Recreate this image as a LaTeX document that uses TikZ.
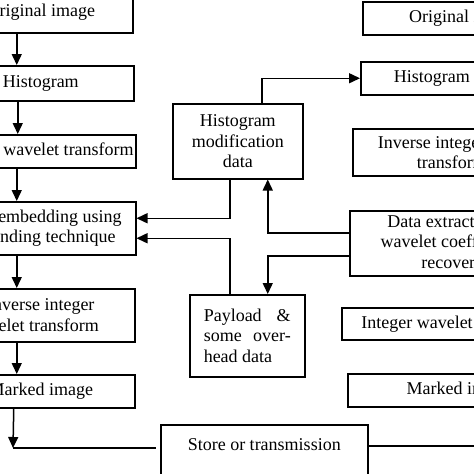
\documentclass[tikz,border=0pt]{standalone}
\usepackage{fontspec}
\setmainfont{Liberation Serif}
\usetikzlibrary{arrows.meta}
\begin{document}
\begin{tikzpicture}[x=1pt,y=-1pt,
  box/.style={draw, line width=1.5pt, inner sep=0pt, anchor=north west, align=center,
    font=\fontsize{18}{20.5}\selectfont},
  arr/.style={line width=1.5pt, -{Triangle[length=11pt,width=10pt]}},
  ln/.style={line width=1.5pt}]
\useasboundingbox (0,0) rectangle (474,474);
\clip (0,0) rectangle (474,474);
% left column (embedding)
\node[box, minimum width=184pt, minimum height=42pt] (origL) at (-52,-10) {Original image};
\node[box, minimum width=186pt, minimum height=35pt] (histL) at (-53,65) {Histogram};
\node[box, minimum width=190pt, minimum height=33pt] (iwtL) at (-55,134) {Integer wavelet transform};
\node[box, minimum width=190pt, minimum height=53pt] (embL) at (-55,201) {Data embedding using\\expanding technique};
\node[box, minimum width=188pt, minimum height=53pt] (invL) at (-54,288) {Inverse integer\\wavelet transform\hspace*{14pt}};
\node[box, minimum width=188pt, minimum height=33pt] (markL) at (-54,374) {Marked image};
% middle
\node[box, minimum width=130pt, minimum height=75pt] (hmd) at (172,103) {Histogram\\modification\\data};
\node[box, minimum width=115pt, minimum height=82pt] (pay) at (189,294)
  {\parbox{87pt}{Payload\hfill\&\\some\hfill over-\\head data}};
\node[box, minimum width=207pt, text height=26pt, text depth=50pt] (store) at (160,424) {Store or transmission};
% right column (extraction)
\node[box, minimum width=201pt, minimum height=33pt] (origR) at (362,1) {Original image};
\node[box, minimum width=142pt, minimum height=33pt] (histR) at (360,61) {Histogram};
\node[box, minimum width=218pt, minimum height=47pt] (invR) at (352,128) {Inverse integer wavelet\\transform\hspace*{20pt}};
\node[box, minimum width=206pt, minimum height=65pt] (dexR) at (349,210) {\hspace*{10pt}Data extraction and\\wavelet coefficients\\recovery};
\node[box, minimum width=225pt, minimum height=32pt] (iwtR) at (341,307) {Integer wavelet transform};
\node[box, minimum width=222pt, minimum height=33pt] (markR) at (347,373) {Marked image};
% left column arrows
\draw[arr] ([xshift=-24pt]origL.south) -- ([xshift=-24pt]histL.north);
\draw[arr] ([xshift=-23pt]histL.south) -- ([xshift=-23pt]iwtL.north);
\draw[arr] ([xshift=-24pt]iwtL.south) -- ([xshift=-24pt]embL.north);
\draw[arr] ([xshift=-24pt]embL.south) -- ([xshift=-24pt]invL.north);
\draw[arr] ([xshift=-24pt]invL.south) -- ([xshift=-24pt]markL.north);
\coordinate (sL) at (13,448);
\coordinate (sR) at (480,446);
\draw[arr] ([xshift=-27pt]markL.south) -- (sL);
\draw[ln, shorten >=4pt] (sL) -- (sL -| store.west);
\draw[ln] (store.east |- sR) -- (sR);
% middle connectors
\draw[arr] ([xshift=24pt]hmd.north) |- (histR.west);
\draw[arr] ([xshift=-8pt]hmd.south) |- ([yshift=10pt]embL.east);
\draw[arr] ([xshift=-17.5pt]pay.north) |- ([yshift=-10pt]embL.east);
\draw[arr] ([yshift=10.5pt]dexR.west) -| ([xshift=30pt]hmd.south);
\draw[arr] ([yshift=-12.5pt]dexR.west) -| ([xshift=20.5pt]pay.north);
\end{tikzpicture}
\end{document}
